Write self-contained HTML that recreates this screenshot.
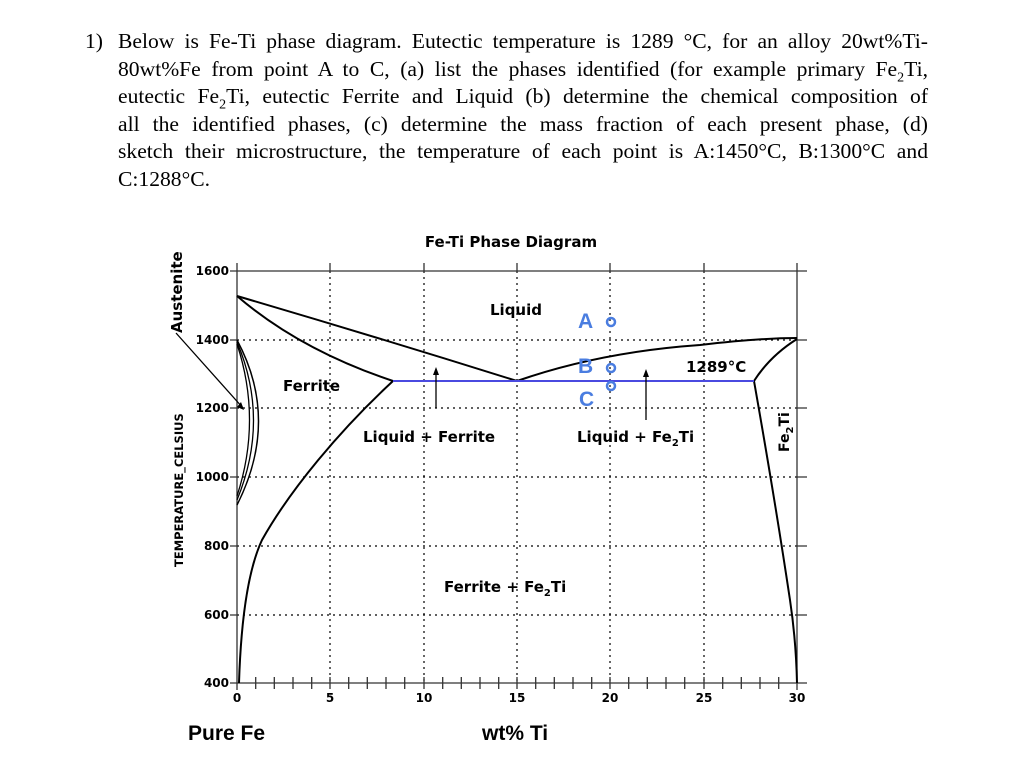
<!DOCTYPE html>
<html><head><meta charset="utf-8"><style>
body{margin:0;background:#fff;width:1024px;height:767px;overflow:hidden;position:relative}
.q{position:absolute;font-family:"Liberation Serif",serif;font-size:21.6px;line-height:27.6px;color:#000}
.j{text-align:justify;text-align-last:justify;white-space:nowrap}
</style></head><body>
<div class="q" style="left:85px;top:28px">1)</div>
<div class="q" style="left:118px;top:28px;width:810px">
<div class="j">Below is Fe-Ti phase diagram. Eutectic temperature is 1289 °C, for an alloy 20wt%Ti-</div>
<div class="j">80wt%Fe from point A to C, (a) list the phases identified (for example primary Fe<sub style="font-size:14px;line-height:0">2</sub>Ti,</div>
<div class="j">eutectic Fe<sub style="font-size:14px;line-height:0">2</sub>Ti, eutectic Ferrite and Liquid (b) determine the chemical composition of</div>
<div class="j">all the identified phases, (c) determine the mass fraction of each present phase, (d)</div>
<div class="j">sketch their microstructure, the temperature of each point is A:1450°C, B:1300°C and</div>
<div>C:1288°C.</div>
</div>
<svg width="1024" height="767" style="position:absolute;left:0;top:0" font-family="'DejaVu Sans',sans-serif">
<g stroke="#000" stroke-width="1.2" stroke-dasharray="2,4" fill="none">
<line x1="237" y1="340" x2="797" y2="340"/><line x1="237" y1="408" x2="797" y2="408"/>
<line x1="237" y1="477" x2="797" y2="477"/><line x1="237" y1="546" x2="797" y2="546"/>
<line x1="237" y1="615" x2="797" y2="615"/>
<line x1="330" y1="271" x2="330" y2="683"/><line x1="424" y1="271" x2="424" y2="683"/>
<line x1="517" y1="271" x2="517" y2="683"/><line x1="610" y1="271" x2="610" y2="683"/>
<line x1="704" y1="271" x2="704" y2="683"/>
</g>
<g stroke="#333" stroke-width="1.3" fill="none">
<line x1="237" y1="271" x2="807" y2="271"/><line x1="230" y1="683" x2="807" y2="683"/>
<line x1="237" y1="263" x2="237" y2="690"/><line x1="797" y1="263" x2="797" y2="690"/>
<path d="M230 271h7M230 340h7M230 408h7M230 477h7M230 546h7M230 615h7M797 340h10M797 408h10M797 477h10M797 546h10M797 615h10"/>
<path d="M330 263v8M424 263v8M517 263v8M610 263v8M704 263v8"/>
<path d="M255.7 677v12M274.3 677v12M293 677v12M311.7 677v12M330 677v12M348.7 677v12M367.3 677v12M386 677v12M404.7 677v12M424 677v12M442.7 677v12M461.3 677v12M480 677v12M498.7 677v12M517 677v12M535.7 677v12M554.3 677v12M573 677v12M591.7 677v12M610 677v12M628.7 677v12M647.3 677v12M666 677v12M684.7 677v12M704 677v12M722.7 677v12M741.3 677v12M760 677v12M778.7 677v12"/>
</g>
<g font-size="12" font-weight="bold" fill="#000" text-anchor="end">
<text x="229" y="275">1600</text><text x="229" y="344">1400</text><text x="229" y="412">1200</text>
<text x="229" y="481">1000</text><text x="229" y="550">800</text><text x="229" y="619">600</text><text x="229" y="687">400</text>
</g>
<g font-size="12" font-weight="bold" fill="#000" text-anchor="middle">
<text x="237" y="702">0</text><text x="330" y="702">5</text><text x="424" y="702">10</text><text x="517" y="702">15</text>
<text x="610" y="702">20</text><text x="704" y="702">25</text><text x="797" y="702">30</text>
</g>
<g stroke="#000" stroke-width="2" fill="none">
<path d="M237 296 Q380 338 517 381"/>
<path d="M237 296 Q300 350 393 381"/>
<path d="M393 381 C340 430 290 490 262 540 C248 570 241 620 239 683"/>
<path d="M517 381 Q600 352 700 345 Q760 338 797 338"/>
<path d="M754 381 Q770 356 797 339"/>
<path d="M754 381 Q775 500 790 600 Q796 640 797 683"/>
<path d="M237 340 Q280 420 237 505" stroke-width="1.5"/>
<path d="M237 342 Q270 420 237 500" stroke-width="1.3"/>
<path d="M237 344 Q262 420 237 496" stroke-width="1.3"/>
</g>
<line x1="393" y1="381" x2="754" y2="381" stroke="#4a4ae0" stroke-width="2"/>
<g stroke="#000" stroke-width="1.3"><line x1="436" y1="408" x2="436" y2="372"/><line x1="646" y1="420" x2="646" y2="374"/>
<line x1="176" y1="333" x2="243" y2="408"/></g>
<path d="M436 367l-3 8h6z M646 369l-3 8h6z M244 410l-7-3 4-5z" fill="#000"/>
<g fill="#000" font-weight="bold" font-size="15">
<text x="511" y="247" text-anchor="middle">Fe-Ti Phase Diagram</text>
<text x="516" y="315" text-anchor="middle">Liquid</text>
<text x="283" y="391">Ferrite</text>
<text x="363" y="442">Liquid + Ferrite</text>
<text x="577" y="442">Liquid + Fe<tspan font-size="10" dy="4">2</tspan><tspan dy="-4">Ti</tspan></text>
<text x="444" y="592">Ferrite + Fe<tspan font-size="10" dy="4">2</tspan><tspan dy="-4">Ti</tspan></text>
<text x="686" y="372">1289°C</text>
<text transform="translate(182,333) rotate(-90)" font-size="15">Austenite</text>
<text transform="translate(183,567) rotate(-90)" font-size="11.5">TEMPERATURE_CELSIUS</text>
<text transform="translate(789,452) rotate(-90)" font-size="14">Fe<tspan font-size="10" dy="4">2</tspan><tspan dy="-4">Ti</tspan></text>
<g font-size="21" fill="#4a7de0" font-family="'Liberation Sans',sans-serif">
<text x="578" y="328">A</text><text x="578" y="373">B</text><text x="579" y="406">C</text></g>
</g>
<g fill="none" stroke="#4a7de0" stroke-width="2.5"><circle cx="611" cy="322" r="4"/><circle cx="611" cy="368" r="4"/><circle cx="611" cy="386" r="4"/></g>
<g font-family="'Liberation Sans',sans-serif" font-size="21" font-weight="bold" fill="#000">
<text x="188" y="740">Pure Fe</text><text x="482" y="740">wt% Ti</text>
</g>
</svg>
</body></html>
